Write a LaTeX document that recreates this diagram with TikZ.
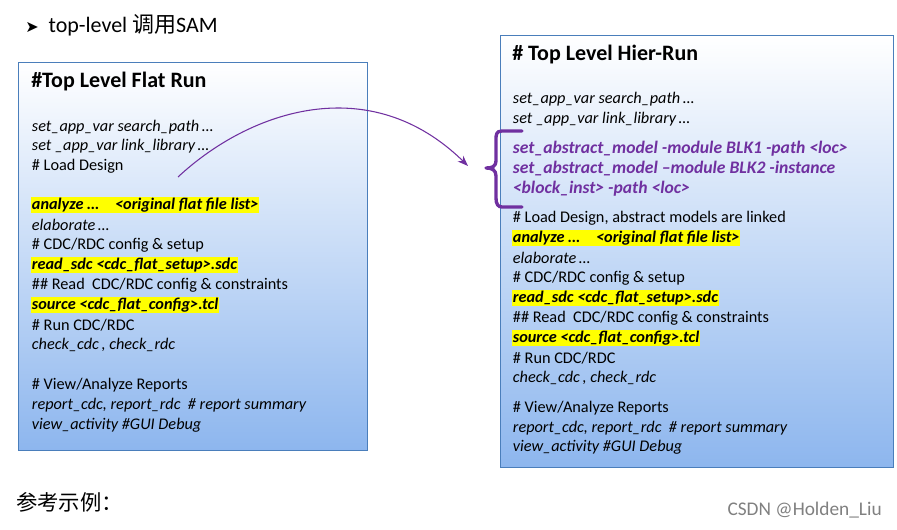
\documentclass[tikz,border=0pt]{standalone}
\usepackage{fontspec}
\setmainfont{Carlito}
\newfontfamily\cjk{Noto Sans CJK SC}
\newfontfamily\djvfont{DejaVu Sans}
\usetikzlibrary{arrows.meta}
\definecolor{boxtop}{HTML}{FFFFFF}
\definecolor{boxbot}{HTML}{8DB6EE}
\definecolor{edge}{HTML}{4A7EBB}
\definecolor{purp}{HTML}{7030A0}
\definecolor{hl}{HTML}{FFFF00}
\begin{document}
\begin{tikzpicture}[x=0.75pt,y=-0.75pt,
  ln/.style={anchor=west,inner sep=0.5pt,font=\fontsize{12.2}{13}\selectfont},
  it/.style={ln,font=\fontsize{12.2}{13}\selectfont\itshape},
  hi/.style={ln,fill=hl,font=\fontsize{12.2}{13}\selectfont\bfseries\itshape},
  pu/.style={ln,text=purp,font=\fontsize{13.2}{14}\selectfont\bfseries\itshape},
  ttl/.style={anchor=west,inner sep=0pt,font=\fontsize{16.5}{18}\selectfont\bfseries},
  bx/.style={draw=edge,line width=0.8pt,top color=boxtop,bottom color=boxbot}]
\useasboundingbox (0,0) rectangle (897,530);
\node[anchor=west,inner sep=0pt,font=\fontsize{16.5}{18}\selectfont] (hd) at (25,25) {{\djvfont\fontsize{12}{12}\selectfont ➤}\ \ top-level {\cjk 调用}SAM};
\node[bx,minimum width=349*0.75pt,minimum height=388*0.75pt,anchor=north west,inner sep=0pt] (L) at (18,62) {};
\node[bx,minimum width=393*0.75pt,minimum height=432*0.75pt,anchor=north west,inner sep=0pt] (R) at (500,35) {};
% left box
\node[ttl] (lt) at (31,82) {\#Top Level Flat Run};
\node[it] (l1) at (31,127) {set\_app\_var search\_path\,…};
\node[it] (l2) at (31,146) {set \_app\_var link\_library\,…};
\node[ln] (l3) at (31,166) {\# Load Design};
\node[hi] (l4) at (31,205) {analyze …\quad <original flat file list>};
\node[it] (l5) at (31,225) {elaborate\,…};
\node[ln] (l6) at (31,245) {\# CDC/RDC config \& setup};
\node[hi] (l7) at (31,265) {read\_sdc <cdc\_flat\_setup>.sdc};
\node[ln] (l8) at (31,285) {\#\# Read\ \ CDC/RDC config \& constraints};
\node[hi] (l9) at (31,305) {source <cdc\_flat\_config>.tcl};
\node[ln] (l10) at (31,325) {\# Run CDC/RDC};
\node[it] (l11) at (31,345) {check\_cdc\,, check\_rdc};
\node[ln] (l12) at (31,385) {\# View/Analyze Reports};
\node[it] (l13) at (31,405) {report\_cdc, report\_rdc\ \ \# report summary};
\node[it] (l14) at (31,425) {view\_activity \#GUI Debug};
% right box
\node[ttl] (rt) at (512,55) {\# Top Level Hier-Run};
\node[it] (r1) at (512,99) {set\_app\_var search\_path\,…};
\node[it] (r2) at (512,119) {set \_app\_var link\_library\,…};
\node[pu] (r3) at (512,149) {set\_abstract\_model -module BLK1 -path <loc>};
\node[pu] (r4) at (512,169) {set\_abstract\_model –module BLK2 -instance};
\node[pu] (r5) at (512,189) {<block\_inst> -path <loc>};
\node[ln] (r6) at (512,218) {\# Load Design, abstract models are linked};
\node[hi] (r7) at (512,238) {analyze …\quad <original flat file list>};
\node[it] (r8) at (512,258) {elaborate\,…};
\node[ln] (r9) at (512,278) {\# CDC/RDC config \& setup};
\node[hi] (r10) at (512,298) {read\_sdc <cdc\_flat\_setup>.sdc};
\node[ln] (r11) at (512,318) {\#\# Read\ \ CDC/RDC config \& constraints};
\node[hi] (r12) at (512,338) {source <cdc\_flat\_config>.tcl};
\node[ln] (r13) at (512,358) {\# Run CDC/RDC};
\node[it] (r14) at (512,378) {check\_cdc\,, check\_rdc};
\node[ln] (r15) at (512,408) {\# View/Analyze Reports};
\node[it] (r16) at (512,428) {report\_cdc, report\_rdc\ \ \# report summary};
\node[it] (r17) at (512,447) {view\_activity \#GUI Debug};
% brace
\coordinate (bt) at (522,131);
\coordinate (bb) at (522,207);
\coordinate (tip) at (468,166);
\draw[purp,line width=2.5pt,line cap=round] (bt) -- (502,131) .. controls (496,131) and (496,135) .. (496,140) -- (496,160) .. controls (496,167) and (492,168) .. (486,168)
  (486,168) .. controls (492,168) and (496,170) .. (496,176) -- (496,198) .. controls (496,204) and (498,207) .. (502,207) -- (bb);
\coordinate (src) at (178,177);
\draw[purp,line width=0.8pt,-{Stealth[length=8pt,width=6pt]}] (src) .. controls (250,110) and (370,70) .. (tip);
\node[anchor=west,inner sep=0pt,font=\cjk\fontsize{16}{18}\selectfont] (ex) at (16,502) {参考示例：};
\node[anchor=east,inner sep=0pt,text=gray,font=\fontsize{14.5}{16}\selectfont] (wm) at (882,510) {CSDN @Holden\_Liu};
\end{tikzpicture}
\end{document}
